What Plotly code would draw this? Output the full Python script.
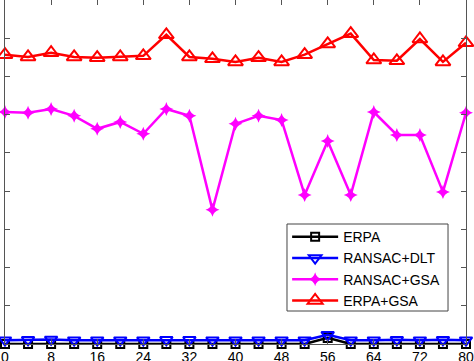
import plotly.graph_objects as go

x_vals = list(range(0, 81, 4))
erpa = [0.0, 0.0, 0.0, 0.0, 0.0, 0.0, 0.0, 0.0, 0.0, 0.0, 0.0, 0.0, 0.0, 0.0, 0.16, 0.0, 0.0, 0.0, 0.0, 0.0, 0.0]
ransac_dlt = [0.1, 0.11, 0.12, 0.1, 0.1, 0.1, 0.1, 0.11, 0.11, 0.1, 0.1, 0.1, 0.1, 0.1, 0.24, 0.1, 0.1, 0.11, 0.1, 0.11, 0.1]
ransac_gsa = [6.07, 6.05, 6.15, 5.97, 5.63, 5.81, 5.50, 6.15, 5.97, 3.51, 5.76, 5.97, 5.86, 3.90, 5.31, 3.90, 6.07, 5.47, 5.47, 3.98, 6.05]
erpa_gsa = [7.57, 7.51, 7.62, 7.51, 7.49, 7.51, 7.54, 8.09, 7.51, 7.46, 7.38, 7.49, 7.38, 7.57, 7.85, 8.12, 7.43, 7.41, 7.98, 7.38, 7.88]
x_ticks = [0, 8, 16, 24, 32, 40, 48, 56, 64, 72, 80]

fig = go.Figure()
fig.add_trace(go.Scatter(x=x_vals, y=erpa, name="ERPA", mode="lines+markers",
                         line=dict(color="black", width=2.5),
                         marker=dict(symbol="square-open", size=8, color="black", line=dict(width=2)),
                         cliponaxis=False))
fig.add_trace(go.Scatter(x=x_vals, y=ransac_dlt, name="RANSAC+DLT", mode="lines+markers",
                         line=dict(color="#0000ff", width=2.5),
                         marker=dict(symbol="triangle-down-open", size=11, color="#0000ff", line=dict(width=2)),
                         cliponaxis=False))
fig.add_trace(go.Scatter(x=x_vals, y=ransac_gsa, name="RANSAC+GSA", mode="lines+markers",
                         line=dict(color="#ff00ff", width=2.5),
                         marker=dict(symbol="star-diamond", size=10, color="#ff00ff"),
                         cliponaxis=False))
fig.add_trace(go.Scatter(x=x_vals, y=erpa_gsa, name="ERPA+GSA", mode="lines+markers",
                         line=dict(color="#ff0000", width=2.5),
                         marker=dict(symbol="triangle-up-open", size=13, color="#ff0000", line=dict(width=2)),
                         cliponaxis=False))

fig.add_shape(type="rect", xref="paper", yref="paper",
              x0=0.6117, x1=0.961, y0=0.0959, y1=0.3488,
              fillcolor="white", line=dict(color="#444", width=1), layer="above")

fig.update_layout(
    width=474, height=361,
    margin=dict(l=5, r=8, t=0, b=17, autoexpand=False),
    paper_bgcolor="white", plot_bgcolor="white",
    font=dict(family="Liberation Sans, Arial, sans-serif", size=14, color="black"),
    showlegend=True,
    legend=dict(x=0.612, y=0.357, xanchor="left", yanchor="top",
                bgcolor="rgba(0,0,0,0)", borderwidth=0,
                font=dict(size=14), tracegroupgap=0, itemwidth=46),
)
fig.update_xaxes(range=[0, 80], tickvals=x_ticks, ticktext=[str(t) for t in x_ticks],
                 ticks="inside", ticklen=5, tickcolor="#555", showline=True, linecolor="#555",
                 linewidth=1, mirror="ticks", showgrid=False, zeroline=False, automargin=False)
fig.update_yaxes(range=[0, 9], dtick=1, showticklabels=False,
                 ticks="inside", ticklen=5, tickcolor="#555", showline=True, linecolor="#555",
                 linewidth=1, mirror="ticks", showgrid=False, zeroline=False, automargin=False)

fig.write_html("out.html", config={"displayModeBar": False},
               post_script="document.body.style.margin='0';")
